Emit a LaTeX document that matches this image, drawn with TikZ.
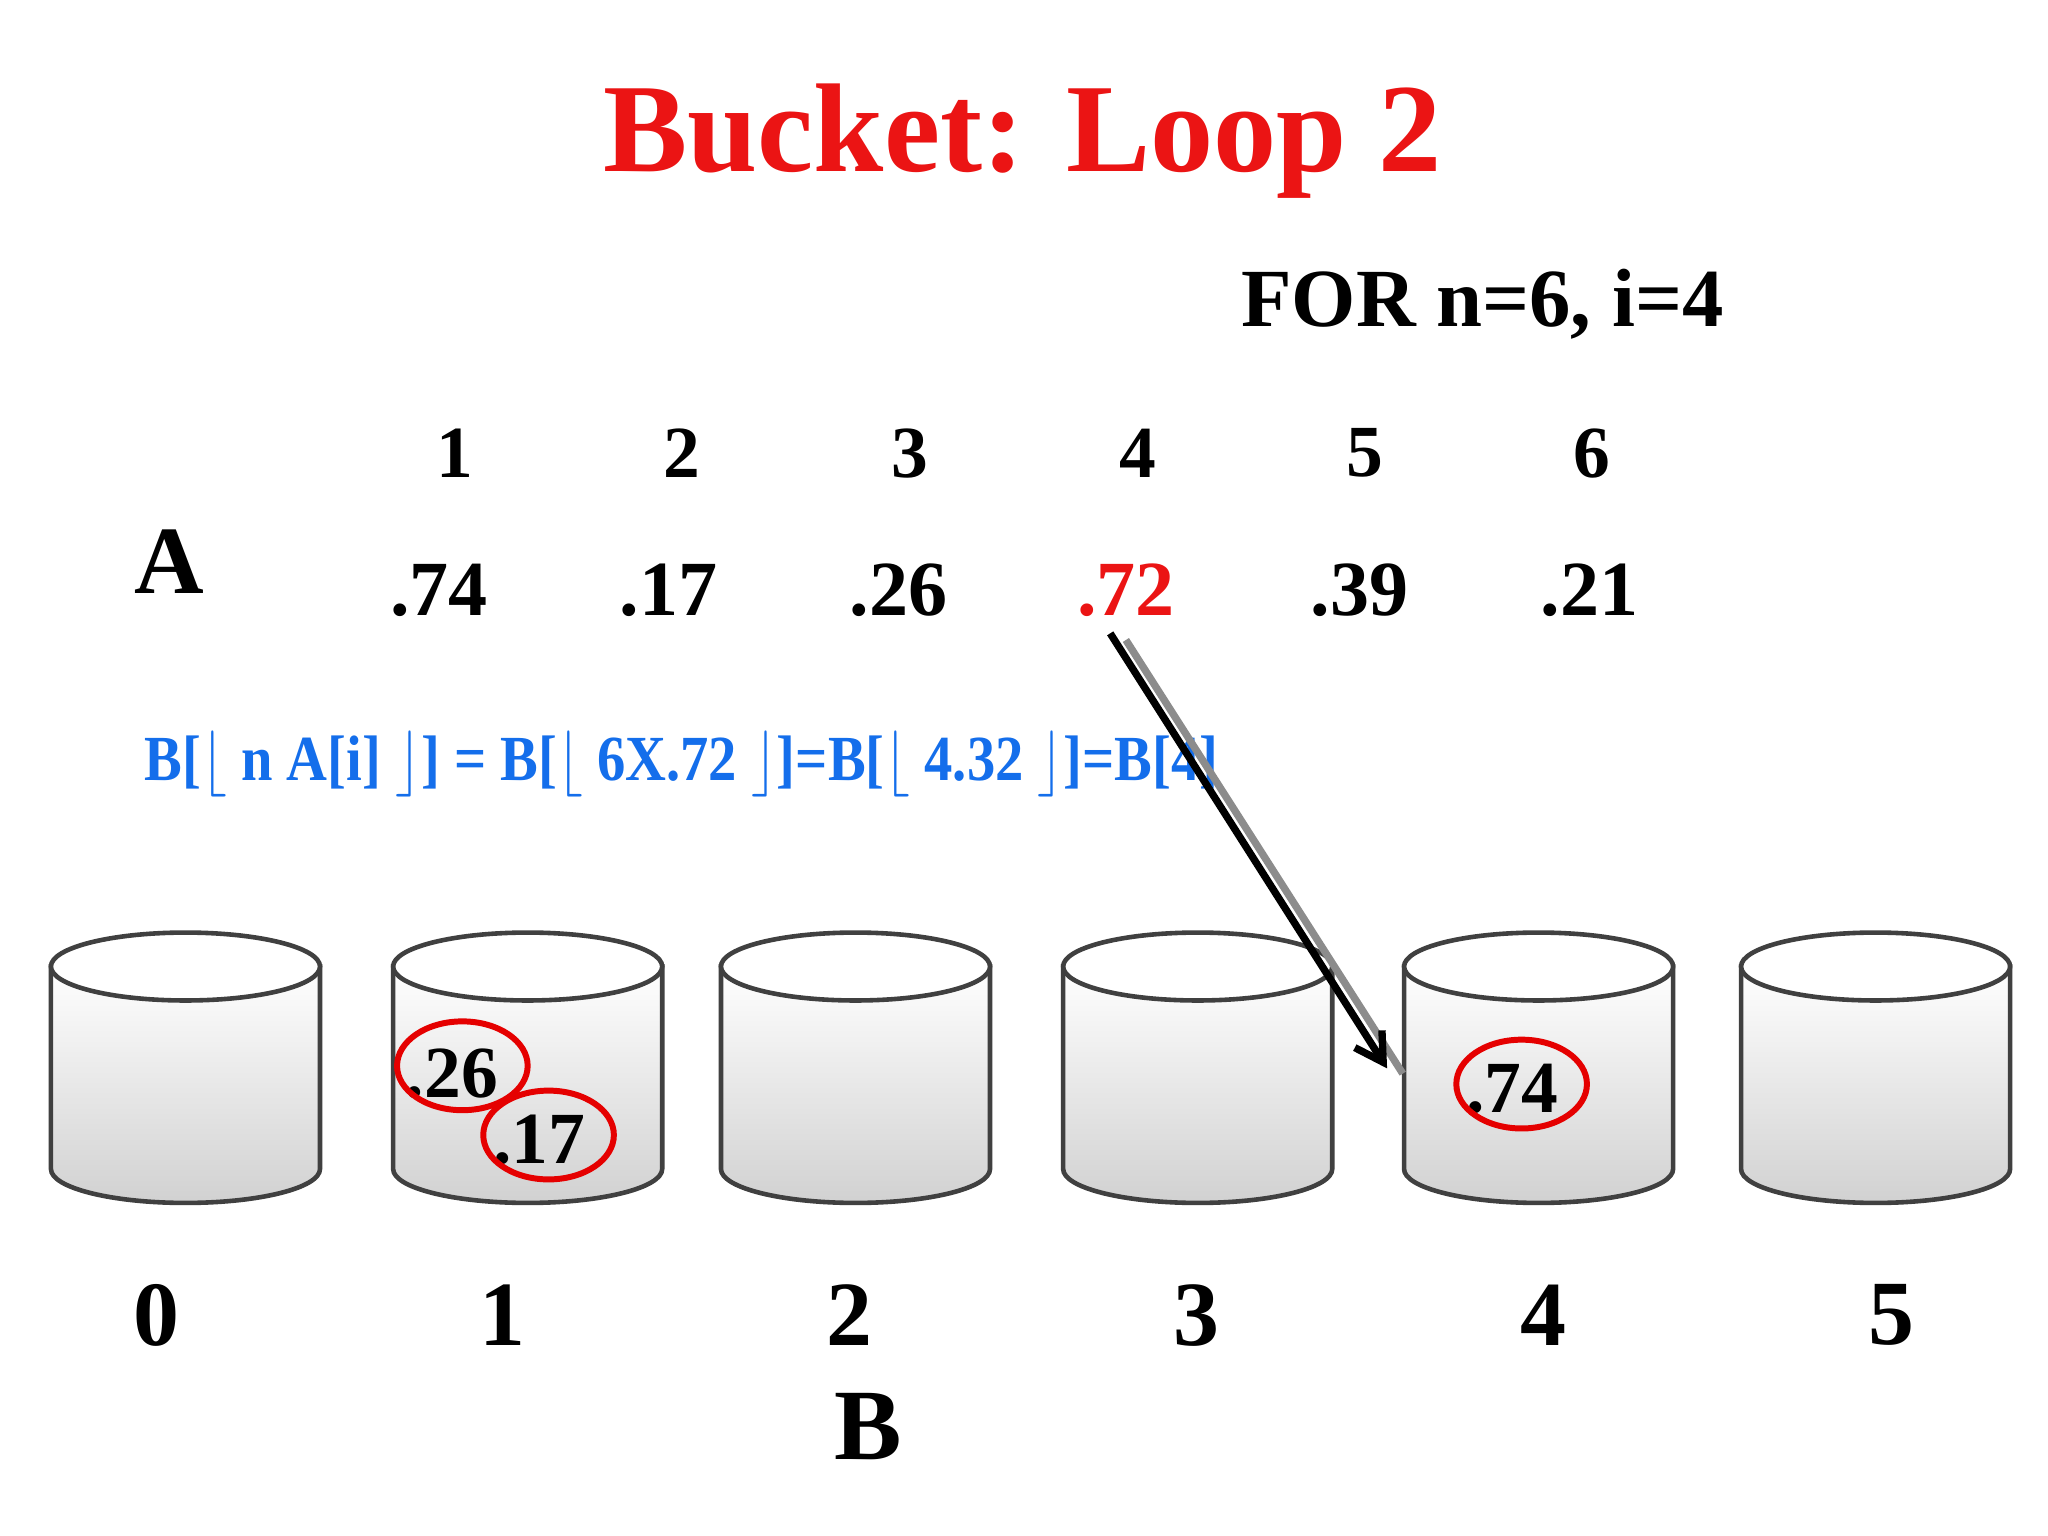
\documentclass[tikz,border=0pt]{standalone}
\usepackage{fontspec}
\setmainfont{Liberation Serif}
\usetikzlibrary{arrows.meta}
\definecolor{titred}{RGB}{235,20,20}
\definecolor{fblue}{RGB}{20,110,235}
\begin{document}
\begin{tikzpicture}[x=0.01cm,y=-0.01cm,
  lab/.style={font=\fontsize{17}{20}\selectfont\bfseries,inner sep=0pt},
  idx/.style={font=\fontsize{16}{19}\selectfont\bfseries,inner sep=0pt},
  val/.style={font=\fontsize{16}{19}\selectfont\bfseries,inner sep=0pt}]
\useasboundingbox (0,0) rectangle (1568,1176);
\fill[white] (0,0) rectangle (1568,1176);
\node[font=\fontsize{27.5}{32}\selectfont\bfseries,text=titred] (title) at (783,108) {Bucket: Loop 2};
\node[font=\fontsize{18}{22}\selectfont\bfseries] (for) at (1135,233) {FOR n=6, i=4};
\foreach \i/\x in {1/348,2/522,3/697,4/871,5/1045,6/1219}
  \node[idx] (i\i) at (\x,347) {\i};
\node[font=\fontsize{21}{25}\selectfont\bfseries] (A) at (130,430) {A};
\node[lab] (a1) at (336,452) {.74};
\node[lab] (a2) at (512,452) {.17};
\node[lab] (a3) at (688,452) {.26};
\node[lab,text=titred] (a4) at (862,452) {.72};
\node[lab] (a5) at (1041,452) {.39};
\node[lab] (a6) at (1217,452) {.21};
\node[anchor=west,text=fblue,font=\fontsize{14}{17}\selectfont\bfseries,inner sep=0pt] (f) at (110,585)
 {\scalebox{0.88}[1]{B[$\lfloor$ n A[i] $\rfloor$] = B[$\lfloor$ 6X.72 $\rfloor$]=B[$\lfloor$ 4.32 $\rfloor$]=B[4]}};
\foreach \k/\x/\lx in {0/142/120,1/404/385,2/655/650,3/917/916,4/1178/1182,5/1436/1448}{
  \shade[top color=white,bottom color=black!18,draw=black!75,line width=1pt]
    (\x-103,740) -- (\x-103,895) arc[start angle=180,end angle=0,x radius=103,y radius=26] -- (\x+103,740) -- cycle;
  \draw[fill=white,draw=black!75,line width=1pt] (\x,740) ellipse[x radius=103,y radius=26];
  \node[font=\fontsize{20}{24}\selectfont\bfseries] (b\k) at (\lx,1007) {\k};
}
\node[font=\fontsize{22}{26}\selectfont\bfseries] (B) at (665,1092) {B};
\node[val] (v26) at (346,822) {.26};
\draw[red!90!black,line width=1.3pt] (354,816) ellipse[x radius=50,y radius=34];
\node[val] (v17) at (413,873) {.17};
\draw[red!90!black,line width=1.3pt] (420,869) ellipse[x radius=50,y radius=34];
\node[val] (v74) at (1158,834) {.74};
\draw[red!90!black,line width=1.3pt] (1165,830) ellipse[x radius=50,y radius=34];
\coordinate (e1) at (1062,818);
\coordinate (g0) at (862,490);
\coordinate (g1) at (1074,822);
\draw[black!45,line width=1.6pt] (g0) -- (g1);
\draw[line width=1.6pt,-{Straight Barb[length=6pt,width=7pt]}] (a4.south) ++(-12,12) coordinate (s0) (s0) -- (e1);
\end{tikzpicture}
\end{document}
